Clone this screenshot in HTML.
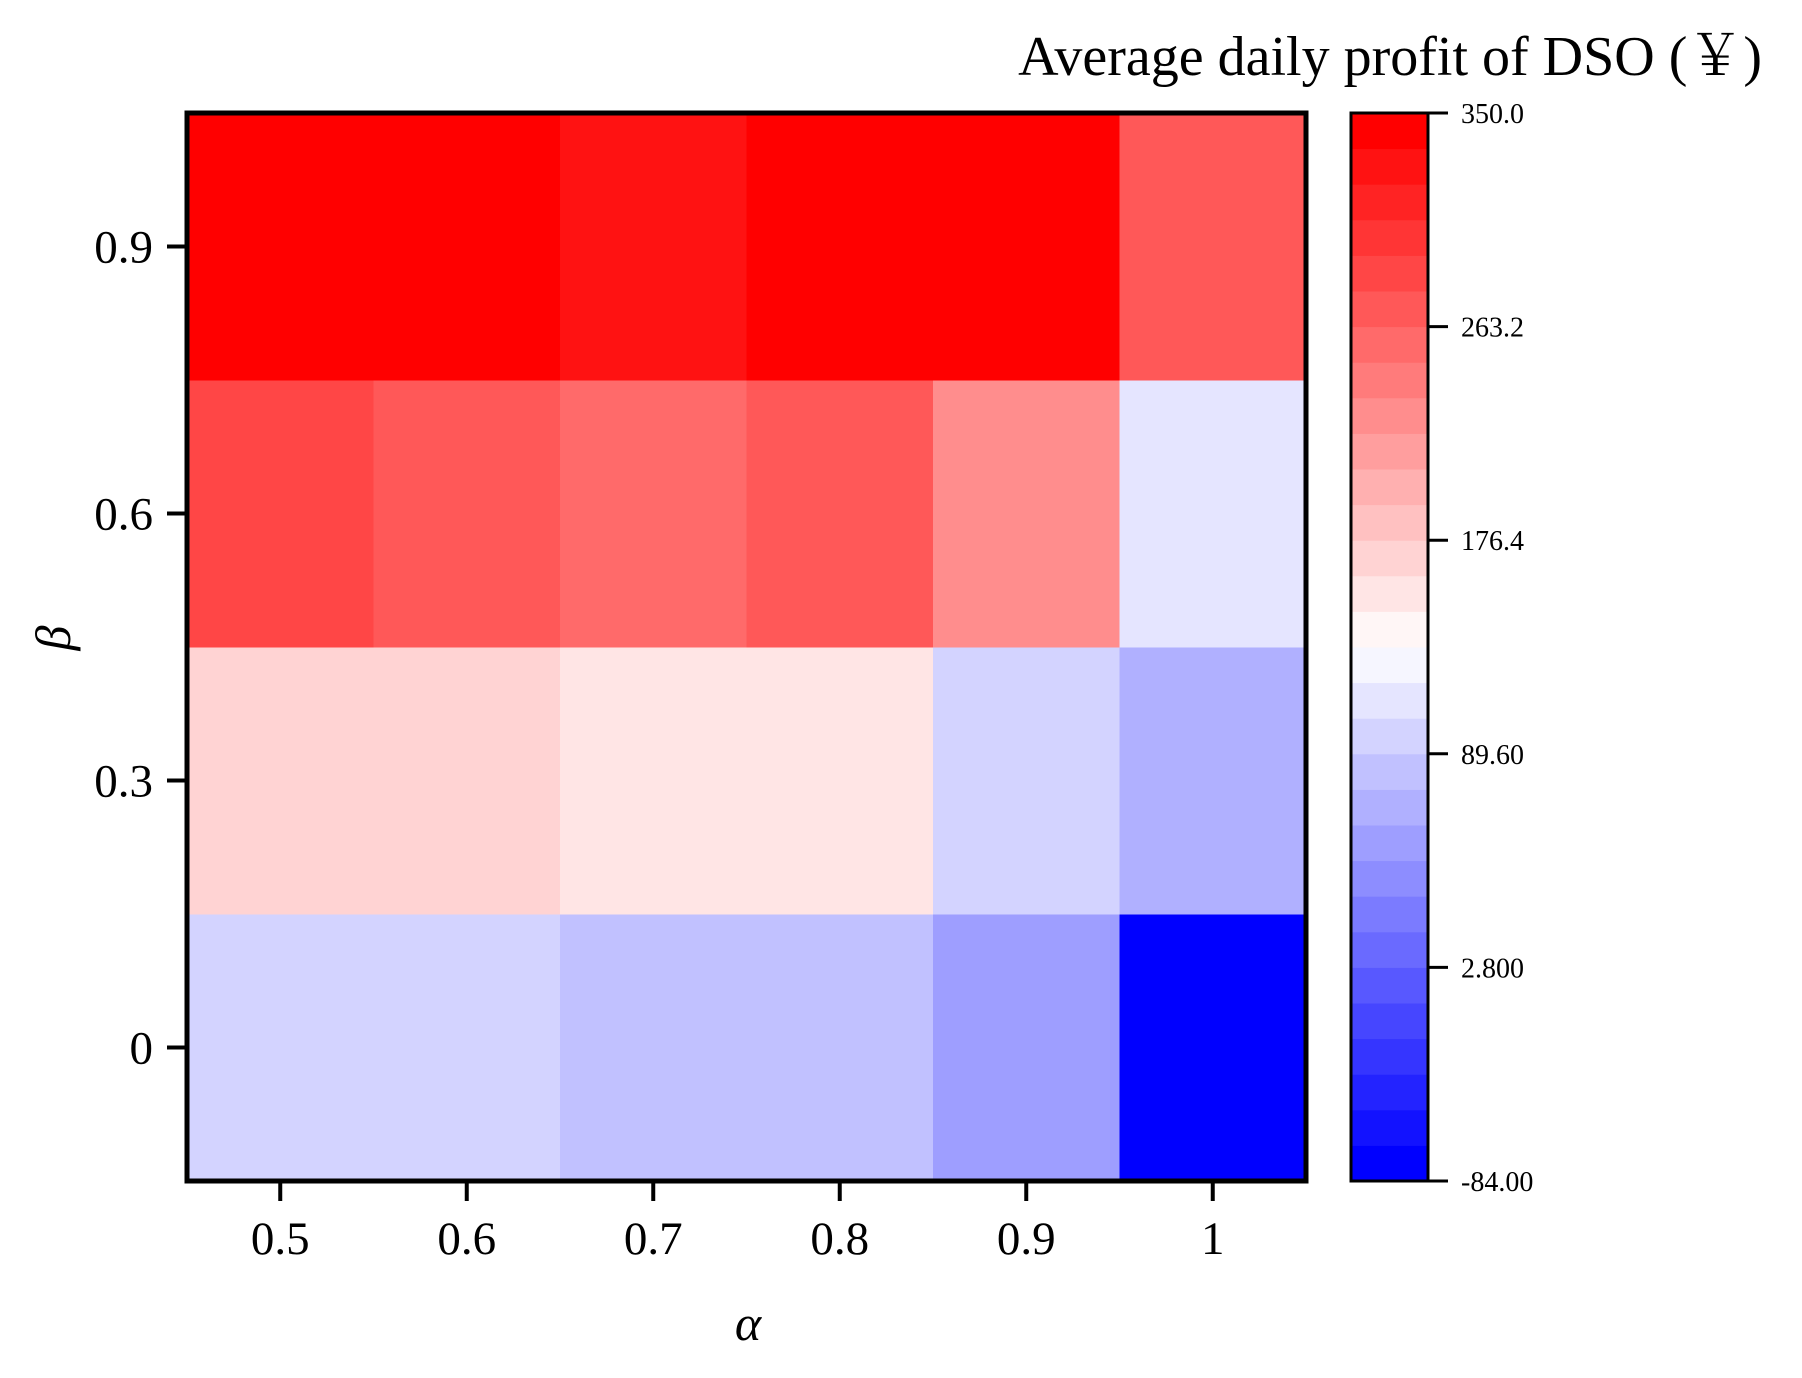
<!DOCTYPE html>
<html><head><meta charset="utf-8"><style>
html,body{margin:0;padding:0;background:#fff;}
svg{display:block;font-family:"Liberation Serif","Noto Serif CJK SC",serif;}
</style></head><body>
<svg id="chart" width="1802" height="1378" viewBox="0 0 1802 1378">
<text x="1762" y="75" text-anchor="end" font-size="56">Average daily profit of DSO (￥)</text>
<text x="748" y="1340" text-anchor="middle" font-size="50" font-style="italic">α</text>
<text x="0" y="0" text-anchor="middle" font-size="50" font-style="italic" transform="translate(70,638) rotate(-90)">β</text>
</svg>
<script>
const alphas = ["0.5","0.6","0.7","0.8","0.9","1"];
const betas = ["0","0.3","0.6","0.9"];
const row0 = [96, 96, 82, 82, 53, -80];
const row03 = [169, 169, 154, 154, 96, 67];
const row06 = [284, 270, 255, 270, 226, 111];
const row09 = [345, 345, 333, 340, 345, 270];
const cbTicks = ["350.0","263.2","176.4","89.60","2.800","-84.00"];
const vmin = -84, vmax = 350, nLevels = 30;

const NS = "http://www.w3.org/2000/svg";
const svg = document.getElementById("chart");
const L = 187, R = 1306, T = 113, B = 1181;
const cw = (R - L) / alphas.length, ch = (B - T) / betas.length;
const xC = i => L + cw * (i + 0.5);
const yC = j => B - ch * (j + 0.5);
function bwr(t){
  let r,g,b;
  if (t < 0.5){ r = g = Math.round(510*t); b = 255; }
  else { r = 255; g = b = Math.round(510*(1-t)); }
  return `rgb(${r},${g},${b})`;
}
function level(v){
  let k = Math.floor((v - vmin) / ((vmax - vmin) / nLevels));
  return Math.max(0, Math.min(nLevels - 1, k));
}
function colorFor(v){ return bwr(level(v) / (nLevels - 1)); }
function mk(tag, attrs){
  const e = document.createElementNS(NS, tag);
  for (const k in attrs) e.setAttribute(k, attrs[k]);
  svg.appendChild(e);
  return e;
}
const rows = [row0, row03, row06, row09];
rows.forEach((row, j) => {
  row.forEach((v, i) => {
    const r = mk("rect", {x: xC(i) - cw/2, y: yC(j) - ch/2, width: cw + 0.5, height: ch + 0.5, fill: colorFor(v)});
    
    
  });
});
const frame = mk("rect", {x: L, y: T, width: R - L, height: B - T, fill: "none", stroke: "#000", "stroke-width": 5});


alphas.forEach((a, i) => {
  const t = mk("line", {x1: xC(i), x2: xC(i), y1: B, y2: B + 20, stroke: "#000", "stroke-width": 4});
  
  
  const tx = mk("text", {x: xC(i), y: 1254, "text-anchor": "middle", "font-size": 47});
  tx.textContent = a;
  
  
});
betas.forEach((b, j) => {
  const t = mk("line", {x1: L - 20, x2: L, y1: yC(j), y2: yC(j), stroke: "#000", "stroke-width": 4});
  
  
  const tx = mk("text", {x: 153, y: yC(j) + 16, "text-anchor": "end", "font-size": 47});
  tx.textContent = b;
  
  
});
// colorbar
const CL = 1351, CR = 1428, CT = 113, CB = 1181;
const bh = (CB - CT) / nLevels;
for (let k = 0; k < nLevels; k++){
  const r = mk("rect", {x: CL, y: CB - bh*(k+1), width: CR - CL, height: bh + 0.5, fill: bwr(k/(nLevels-1))});
  
  
}
const cf = mk("rect", {x: CL, y: CT, width: CR - CL, height: CB - CT, fill: "none", stroke: "#000", "stroke-width": 3});


cbTicks.forEach((lab, i) => {
  const y = CT + (CB - CT) * i / (cbTicks.length - 1);
  const t = mk("line", {x1: CR, x2: CR + 20, y1: y, y2: y, stroke: "#000", "stroke-width": 3});
  
  
  const tx = mk("text", {x: CR + 33, y: y + 10, "font-size": 28});
  tx.textContent = lab;
  
  
});
</script>
</body></html>
